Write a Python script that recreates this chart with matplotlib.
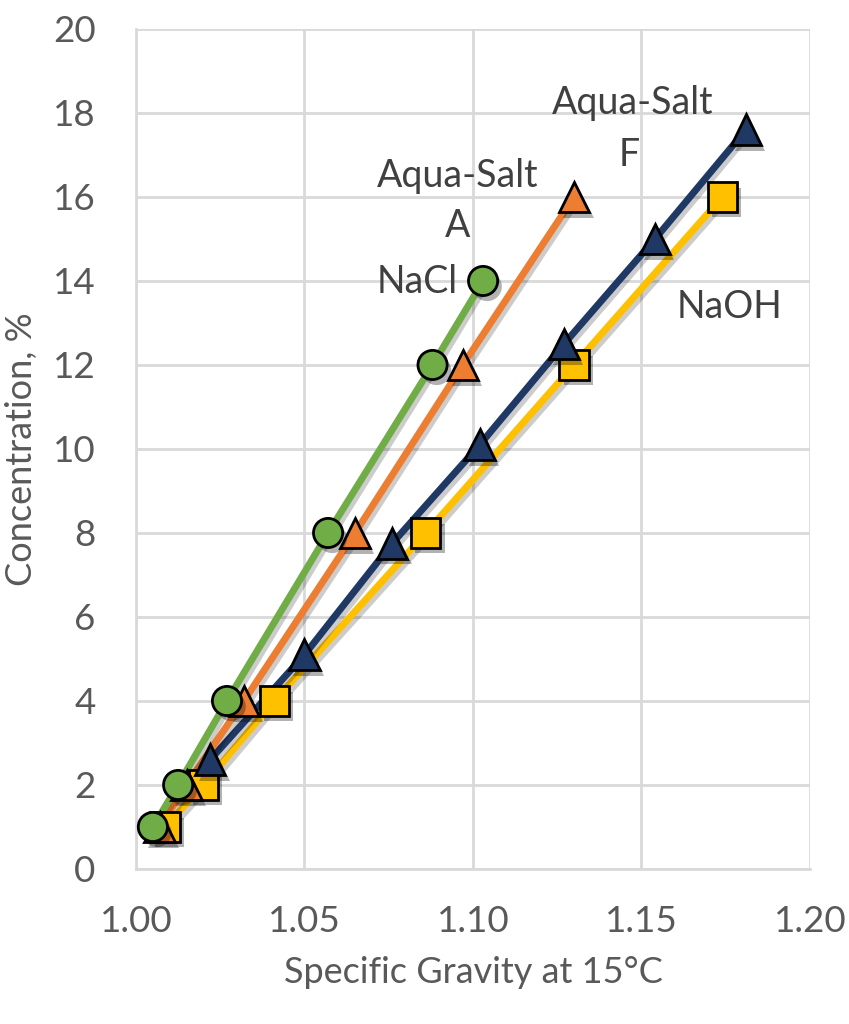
import matplotlib
matplotlib.use("Agg")
import matplotlib.pyplot as plt
import matplotlib.patheffects as pe

plt.rcParams['font.family'] = ['Lato', 'DejaVu Sans']

# Data
nacl_x = [1.005, 1.0125, 1.027, 1.057, 1.088, 1.103]
nacl_y = [1, 2, 4, 8, 12, 14]
asa_x = [1.007, 1.015, 1.032, 1.065, 1.097, 1.130]
asa_y = [1, 2, 4, 8, 12, 16]
asf_x = [1.022, 1.050, 1.076, 1.102, 1.127, 1.154, 1.181]
asf_y = [2.6, 5.1, 7.75, 10.1, 12.5, 15.0, 17.6]
naoh_x = [1.0086, 1.020, 1.041, 1.086, 1.130, 1.174]
naoh_y = [1, 2, 4, 8, 12, 16]

x_ticks = [1.00, 1.05, 1.10, 1.15, 1.20]
x_tick_labels = ["1.00", "1.05", "1.10", "1.15", "1.20"]
y_ticks = list(range(0, 21, 2))

series = [
    (naoh_x, naoh_y, '#FFC000', 's', 21),
    (asf_x, asf_y, '#203864', '^', 22),
    (asa_x, asa_y, '#ED7D31', '^', 22),
    (nacl_x, nacl_y, '#70AD47', 'o', 21),
]

fig = plt.figure(figsize=(8.49, 10.24), dpi=100)
ax = fig.add_axes([0.1602, 0.1514, 0.7938, 0.8203])

line_shadow = [pe.SimpleLineShadow(offset=(2, -3), alpha=0.2, shadow_color='black'), pe.Normal()]
mark_shadow = [pe.SimplePatchShadow(offset=(3, -4), alpha=0.3, shadow_rgbFace='black'), pe.Normal()]

for xs, ys, c, m, ms in series:
    ax.plot(xs, ys, color=c, lw=5, solid_capstyle='butt', zorder=3, path_effects=line_shadow)
for xs, ys, c, m, ms in series:
    ax.plot(xs, ys, ls='none', marker=m, ms=ms, mfc=c, mec='black', mew=2, zorder=4,
            path_effects=mark_shadow)

ax.set_xlim(1.00, 1.20)
ax.set_ylim(0, 20)
ax.set_xticks(x_ticks)
ax.set_xticklabels(x_tick_labels)
ax.set_yticks(y_ticks)
ax.grid(True, color='#d9d9d9', lw=2)
ax.set_axisbelow(True)
for s in ['top', 'right']:
    ax.spines[s].set_visible(False)
for s in ['left', 'bottom']:
    ax.spines[s].set_color('#d9d9d9')
    ax.spines[s].set_linewidth(2)
ax.tick_params(length=0, labelsize=26.5, colors='#595959')
ax.tick_params(axis='y', pad=29)
ax.tick_params(axis='x', pad=26)
ax.set_xlabel('Specific Gravity at 15°C', fontsize=26, color='#595959', labelpad=13)
ax.set_ylabel('Concentration, %', fontsize=26, color='#595959', labelpad=11)

tc = '#404040'
fs = 27
ax.text(1.0955, 16.5, 'Aqua-Salt', ha='center', va='center', fontsize=fs, color=tc)
ax.text(1.0955, 15.3, 'A', ha='center', va='center', fontsize=fs, color=tc)
ax.text(1.0833, 13.98, 'NaCl', ha='center', va='center', fontsize=fs, color=tc)
ax.text(1.1473, 18.24, 'Aqua-Salt', ha='center', va='center', fontsize=fs, color=tc)
ax.text(1.1465, 17.0, 'F', ha='center', va='center', fontsize=fs, color=tc)
ax.text(1.176, 13.38, 'NaOH', ha='center', va='center', fontsize=fs, color=tc)

fig.savefig('out.png', dpi=100)
